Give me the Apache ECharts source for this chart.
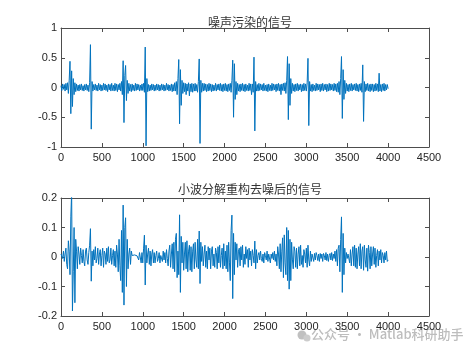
<!DOCTYPE html>
<html>
<head>
<meta charset="utf-8">
<script src="https://cdn.jsdelivr.net/npm/echarts@6/dist/echarts.min.js"></script>
<style>html,body{margin:0;padding:0;background:#fff;}#c{width:474px;height:355px;}</style>
</head>
<body>
<div id="c"></div>
<script>
// sample spacing of the stored values (every 10th sample)
var sampleStep = 10;
var xTicks = [0, 500, 1000, 1500, 2000, 2500, 3000, 3500, 4000, 4500];
var topTitle = '噪声污染的信号';
var bottomTitle = '小波分解重构去噪后的信号';
var topYTicks = [-1, -0.5, 0, 0.5, 1];
var bottomYTicks = [-0.2, -0.1, 0, 0.1, 0.2];

// noisy signal, read every 10 samples
var noisy = [
0.03,-0.05,0.06,-0.03,0.05,-0.06,0.07,-0.04,0.08,-0.1,0.12,0.44,-0.44,0.28,-0.32,0.15,-0.12,0.08,-0.07,0.06,
-0.05,0.04,-0.06,0.05,-0.04,0.06,-0.05,0.03,-0.06,0.05,-0.04,0.06,-0.05,0.04,-0.07,0.08,0.72,-0.70,0.1,-0.06,
0.05,-0.04,0.06,-0.05,0.04,-0.06,0.07,-0.04,0.05,-0.06,0.04,-0.05,0.07,-0.04,0.06,-0.05,0.04,-0.07,0.06,-0.04,
0.05,-0.06,0.07,-0.05,0.04,-0.06,0.07,-0.05,0.06,-0.07,0.05,-0.04,0.07,-0.06,0.1,-0.12,0.45,-0.59,0.2,0.37,
-0.22,0.12,-0.1,0.07,-0.06,0.05,-0.07,0.06,-0.05,0.04,-0.06,0.07,-0.05,0.06,-0.04,0.05,-0.06,0.04,-0.05,0.06,
-0.05,0.07,-0.08,0.68,-0.98,0.15,-0.07,0.05,-0.06,0.04,-0.05,0.06,-0.04,0.05,-0.06,0.04,-0.05,0.06,-0.04,0.05,
-0.06,0.04,-0.05,0.06,-0.04,0.05,-0.06,0.04,-0.05,0.07,-0.04,0.05,-0.06,0.04,-0.05,0.06,-0.07,0.05,-0.06,0.08,
-0.06,0.1,-0.12,0.15,0.47,-0.61,0.3,-0.3,0.12,-0.1,0.08,-0.07,0.07,-0.12,0.06,-0.06,0.08,-0.14,0.06,-0.07,
0.07,-0.08,0.06,-0.06,0.07,-0.06,0.05,-0.08,0.1,0.48,-0.94,0.12,-0.08,0.07,-0.06,0.07,-0.05,0.06,-0.07,0.05,
-0.06,0.07,-0.05,0.06,-0.07,0.05,-0.06,0.04,-0.05,0.07,-0.06,0.05,-0.04,0.06,-0.05,0.07,-0.06,0.05,-0.07,0.06,
-0.05,0.07,-0.06,0.05,-0.07,0.06,-0.05,0.07,-0.08,0.12,0.46,-0.5,0.4,-0.2,0.1,-0.12,0.07,-0.06,0.05,-0.07,
0.06,-0.05,0.07,-0.06,0.05,-0.07,0.06,-0.05,0.04,-0.06,0.07,-0.05,0.06,-0.12,0.06,-0.08,0.51,-0.73,0.1,-0.06,
0.05,-0.06,0.07,-0.05,0.06,-0.04,0.05,-0.06,0.07,-0.05,0.04,-0.06,0.05,-0.07,0.06,-0.05,0.04,-0.06,0.07,-0.05,
0.06,-0.04,0.05,-0.07,0.06,-0.05,0.07,-0.06,0.05,-0.12,0.06,-0.05,0.07,-0.06,0.08,-0.1,0.12,0.52,-0.54,0.4,
-0.3,0.15,-0.1,0.07,-0.06,0.05,-0.07,0.06,-0.05,0.07,-0.06,0.05,-0.04,0.06,-0.07,0.05,-0.06,0.07,-0.05,0.06,
-0.06,0.08,0.49,-0.64,0.1,-0.06,0.05,-0.07,0.06,-0.05,0.04,-0.06,0.07,-0.05,0.06,-0.04,0.05,-0.07,0.06,-0.05,
0.07,-0.06,0.05,-0.04,0.06,-0.07,0.05,-0.06,0.07,-0.05,0.06,-0.04,0.05,-0.06,0.07,-0.05,0.06,-0.07,0.07,-0.08,
0.1,-0.12,0.15,0.52,-0.52,0.3,-0.2,0.12,-0.1,0.07,-0.06,0.05,-0.07,0.06,-0.05,0.07,-0.06,0.05,-0.04,0.06,
-0.05,0.07,-0.06,0.05,-0.07,0.06,-0.05,0.07,-0.08,0.38,-0.57,0.1,-0.07,0.06,-0.05,0.07,-0.06,0.05,-0.07,0.06,
-0.05,0.06,-0.07,0.05,-0.06,0.07,-0.05,0.06,-0.07,0.24,-0.06,0.05,-0.07,0.06,-0.05,0.07,-0.06,0.05,-0.04,0.05,
-0.02
];

// wavelet-denoised signal, read every 10 samples
var denoised = [
0.01,0.015,-0.005,0.02,-0.015,0.01,0.03,-0.025,-0.04,0.055,0.02,-0.06,0.136,0.22,-0.183,-0.05,0.1,-0.155,0.06,0.02,
-0.04,0.035,0.01,-0.025,0.03,0.005,-0.02,0.025,-0.015,-0.03,0.02,0.03,-0.01,-0.025,0.015,0.04,0.096,-0.082,0.02,-0.03,
0.025,-0.01,0.035,-0.02,-0.005,0.03,-0.025,0.01,0.025,-0.03,0.005,0.03,-0.035,0.02,0.01,-0.025,0.03,-0.015,0.035,-0.02,
-0.01,0.03,-0.025,0.005,0.025,-0.03,0.02,-0.035,0.04,0.01,-0.05,0.06,-0.03,-0.08,0.09,-0.12,0.176,-0.163,0.1,0.133,
-0.1,0.06,-0.04,0.01,0.03,-0.025,0.02,0.005,0.008,0.004,0.007,0.006,0.01,0.004,0.008,-0.01,0.015,0.01,-0.02,0.015,
-0.02,0.03,0.074,-0.095,0.04,-0.02,0.01,0.03,-0.025,0.02,-0.03,0.01,0.025,-0.02,0.015,-0.02,0.005,0.02,-0.015,-0.005,
0.015,-0.02,0.005,0.01,-0.015,0.02,-0.01,0.015,-0.02,0.025,-0.005,-0.03,0.02,0.04,-0.035,0.01,0.045,-0.04,0.05,-0.05,
0.06,0.08,-0.07,0.02,-0.06,0.143,-0.12,0.07,-0.02,0.05,-0.045,0.01,0.05,-0.04,0.055,-0.05,0.02,0.04,-0.045,0.035,
-0.05,0.02,0.045,-0.04,0.05,-0.01,-0.035,0.06,-0.04,0.088,-0.09,0.05,-0.015,0.035,-0.03,0.01,0.04,-0.035,0.02,-0.04,
0.035,-0.01,0.03,-0.04,0.02,0.035,-0.03,0.01,-0.035,0.03,0.015,-0.04,0.035,-0.02,0.04,-0.035,0.005,0.03,-0.04,0.045,
-0.03,0.02,-0.04,0.04,-0.05,0.05,-0.02,-0.08,0.09,0.142,-0.141,0.08,-0.06,0.05,-0.01,0.045,-0.035,0.02,0.03,-0.03,
0.035,-0.01,0.04,-0.035,0.01,-0.025,0.035,-0.005,0.025,-0.035,0.03,-0.01,0.02,-0.03,0.025,0.005,-0.02,0.054,-0.04,0.025,
-0.02,0.005,0.015,-0.01,0.02,-0.005,-0.015,0.01,-0.02,0.015,0.005,-0.01,0.02,-0.015,0.01,0.015,-0.02,0.01,-0.005,0.015,
-0.01,0.02,-0.015,0.01,-0.03,0.035,0.01,-0.04,0.045,-0.05,0.02,0.065,-0.07,0.075,-0.02,-0.06,0.1,-0.08,0.09,-0.109,
0.06,-0.08,0.05,-0.01,-0.04,0.035,0.02,-0.035,0.03,-0.04,0.01,0.035,-0.03,0.04,-0.025,0.005,-0.035,0.025,0.01,-0.02,
0.03,-0.035,0.04,-0.01,-0.03,0.02,-0.015,0.01,0.005,-0.015,0.012,-0.01,0.015,0.005,-0.012,0.01,-0.015,0.012,-0.005,0.01,
-0.015,0.012,0.005,-0.01,0.015,-0.012,0.01,-0.015,0.005,0.012,-0.01,0.015,-0.012,0.01,-0.005,0.02,-0.015,0.025,-0.03,0.03,
0.04,-0.05,0.06,0.136,-0.12,0.08,-0.06,0.03,-0.02,0.015,-0.005,0.01,0.015,-0.02,0.025,-0.03,0.01,0.035,-0.03,0.04,
-0.035,0.03,-0.04,0.01,0.035,-0.03,0.045,-0.04,0.02,0.035,-0.045,0.04,-0.01,-0.035,0.03,-0.048,0.04,0.015,-0.04,0.035,
-0.03,0.01,0.035,-0.025,0.03,-0.035,0.005,0.025,-0.03,0.02,-0.01,0.025,-0.02,0.015,0.005,-0.02,0.015,-0.01,0.02,-0.015,
-0.01
];

function toPairs(arr) {
  return arr.map(function (v, i) { return [i * sampleStep, v]; });
}

var axisColor = '#4d4d4d';
var labelStyle = { color: '#262626', fontSize: 11, fontFamily: 'Liberation Sans, Arial, sans-serif' };
function plainNum(v) { return String(Math.round(v * 1000) / 1000); }

function xAx(grid, pos, showLabel) {
  return {
    type: 'value', gridIndex: grid, position: pos,
    min: xTicks[0], max: xTicks[xTicks.length - 1], interval: xTicks[1] - xTicks[0],
    axisLine: { show: true, onZero: false, lineStyle: { color: axisColor, width: 1 } },
    axisTick: { show: true, inside: true, length: 4, lineStyle: { color: axisColor } },
    axisLabel: Object.assign({ show: showLabel, margin: 5, formatter: plainNum }, labelStyle),
    splitLine: { show: false }
  };
}
function yAx(grid, pos, ticks, showLabel) {
  return {
    type: 'value', gridIndex: grid, position: pos,
    min: ticks[0], max: ticks[ticks.length - 1], interval: ticks[1] - ticks[0],
    axisLine: { show: true, onZero: false, lineStyle: { color: axisColor, width: 1 } },
    axisTick: { show: true, inside: true, length: 4, lineStyle: { color: axisColor } },
    axisLabel: Object.assign({ show: showLabel, margin: 4, formatter: plainNum }, labelStyle),
    splitLine: { show: false }
  };
}

var chart = echarts.init(document.getElementById('c'), null, { renderer: 'canvas' });
chart.setOption({
  animation: false,
  backgroundColor: '#ffffff',
  title: [
    { text: topTitle, left: 245, top: 11, textAlign: 'center',
      textStyle: { fontSize: 12, fontWeight: 'normal', color: '#333', fontFamily: 'Noto Sans CJK SC' } },
    { text: bottomTitle, left: 245, top: 178, textAlign: 'center',
      textStyle: { fontSize: 12, fontWeight: 'normal', color: '#333', fontFamily: 'Noto Sans CJK SC' } }
  ],
  grid: [
    { left: 61, top: 28, width: 368, height: 119 },
    { left: 61, top: 198, width: 368, height: 118 }
  ],
  xAxis: [xAx(0, 'bottom', true), xAx(0, 'top', false), xAx(1, 'bottom', true), xAx(1, 'top', false)],
  yAxis: [yAx(0, 'left', topYTicks, true), yAx(0, 'right', topYTicks, false),
          yAx(1, 'left', bottomYTicks, true), yAx(1, 'right', bottomYTicks, false)],
  series: [
    { type: 'line', xAxisIndex: 0, yAxisIndex: 0, data: toPairs(noisy), showSymbol: false,
      lineStyle: { color: '#0072BD', width: 1 }, clip: true },
    { type: 'line', xAxisIndex: 2, yAxisIndex: 2, data: toPairs(denoised), showSymbol: false,
      lineStyle: { color: '#0072BD', width: 1 }, clip: true }
  ],
  graphic: [
    { type: 'circle', shape: { cx: 302, cy: 335, r: 4.5 }, style: { fill: '#c0c0c0' } },
    { type: 'circle', shape: { cx: 307, cy: 338, r: 3.5 }, style: { fill: '#cccccc' } },
    { type: 'text', left: 311, top: 328,
      style: { text: '公众号 · Matlab科研助手', fill: '#bdbdbd', fontSize: 13, fontWeight: 500,
        fontFamily: 'Noto Sans CJK SC' } }
  ]
});
</script>
</body>
</html>
